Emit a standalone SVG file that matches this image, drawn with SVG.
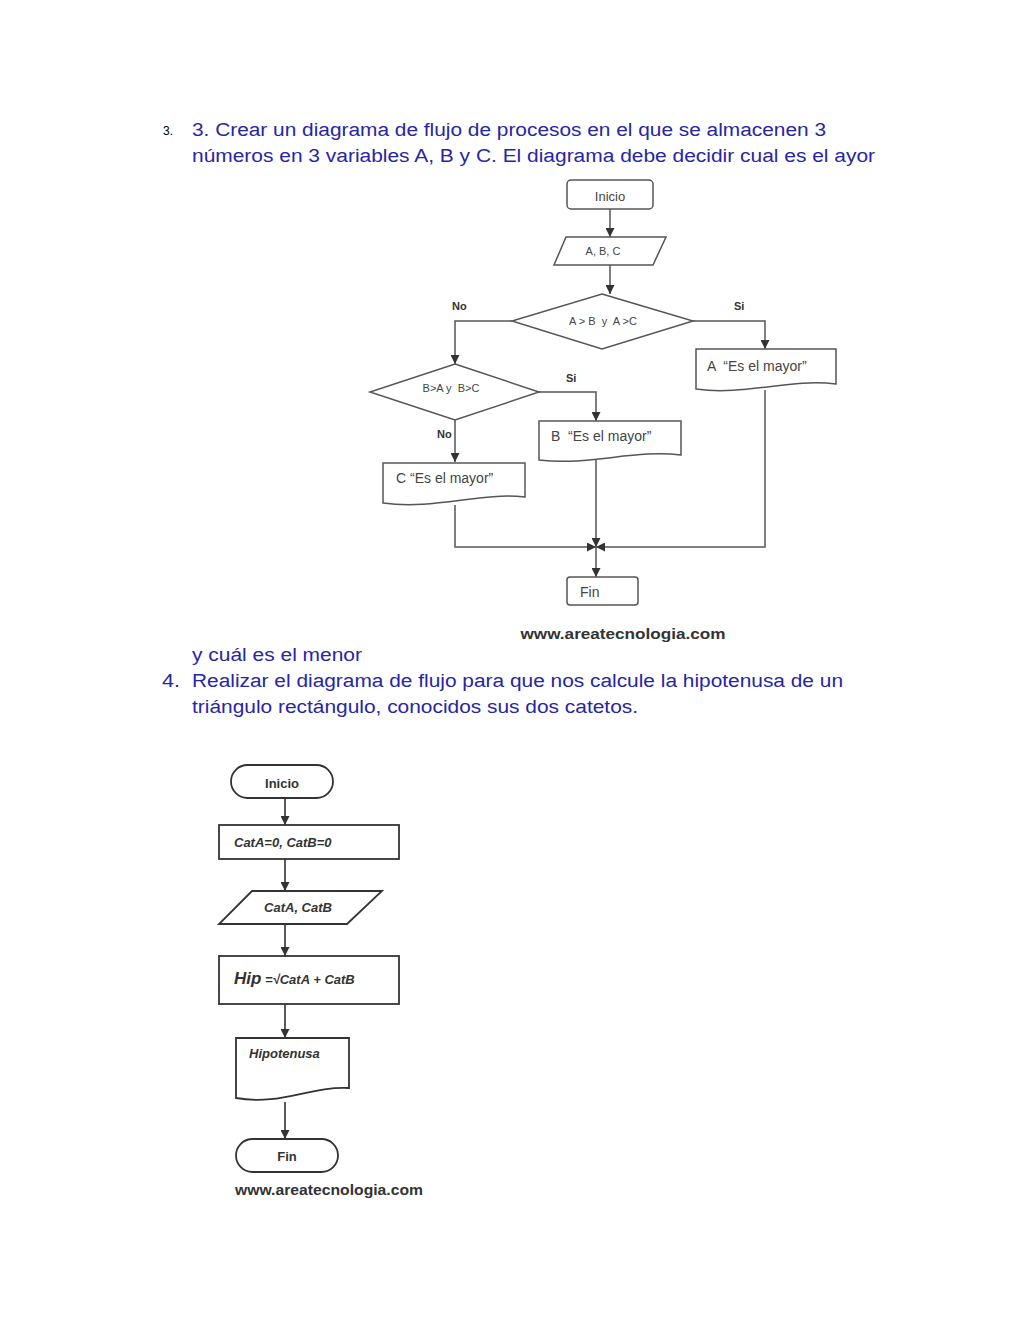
<svg xmlns="http://www.w3.org/2000/svg" width="1024" height="1326" viewBox="0 0 1024 1326">
<style>
.body{font-family:"Liberation Sans",Arial,sans-serif;font-size:18px;fill:#2626a6}
.num{font-family:"Liberation Sans",Arial,sans-serif;font-size:12px;fill:#000}
.f1{fill:#fff;stroke:#555;stroke-width:1.5}
.c1{fill:none;stroke:#555;stroke-width:1.5}
.t1{font-family:"Liberation Sans",Arial,sans-serif;fill:#444;white-space:pre}
.lb{font-family:"Liberation Sans",Arial,sans-serif;font-weight:bold;font-size:11px;fill:#333}
.f2{fill:#fff;stroke:#333;stroke-width:1.8}
.c2{fill:none;stroke:#333;stroke-width:1.6}
.t2{font-family:"Liberation Sans",Arial,sans-serif;font-weight:bold;font-style:italic;font-size:13px;fill:#333}
.t2n{font-family:"Liberation Sans",Arial,sans-serif;font-weight:bold;font-size:13px;fill:#333}
.web{font-family:"Liberation Sans",Arial,sans-serif;font-weight:bold;font-size:15px;fill:#333}
</style>
<defs>
<marker id="ah" viewBox="0 0 10 10" refX="10" refY="5" markerWidth="9" markerHeight="9" markerUnits="userSpaceOnUse" orient="auto">
<path d="M0,0 L10,5 L0,10 Z" fill="#333"/>
</marker>
</defs>
<rect width="1024" height="1326" fill="#fff"/>

<g id="text-top">
<text class="num" x="163" y="135">3.</text>
<text class="body" x="192" y="136" textLength="634" lengthAdjust="spacingAndGlyphs">3. Crear un diagrama de flujo de procesos en el que se almacenen 3</text>
<text class="body" x="192" y="162" textLength="683" lengthAdjust="spacingAndGlyphs">números en 3 variables A, B y C. El diagrama debe decidir cual es el ayor</text>
<text class="body" x="192" y="661" textLength="170" lengthAdjust="spacingAndGlyphs">y cuál es el menor</text>
<text class="body" x="162" y="687" textLength="18" lengthAdjust="spacingAndGlyphs">4.</text>
<text class="body" x="192" y="687" textLength="651" lengthAdjust="spacingAndGlyphs">Realizar el diagrama de flujo para que nos calcule la hipotenusa de un</text>
<text class="body" x="192" y="713" textLength="446" lengthAdjust="spacingAndGlyphs">triángulo rectángulo, conocidos sus dos catetos.</text>
</g>

<g id="connectors1">
<path class="c1" d="M610,209 V237" marker-end="url(#ah)"/>
<path class="c1" d="M610,265 V294" marker-end="url(#ah)"/>
<path class="c1" d="M512,321 H455 V364" marker-end="url(#ah)"/>
<path class="c1" d="M693,321 H765 V349" marker-end="url(#ah)"/>
<path class="c1" d="M539,392 H596 V421" marker-end="url(#ah)"/>
<path class="c1" d="M455,420 V462" marker-end="url(#ah)"/>
<path class="c1" d="M455,505 V547 H596" marker-end="url(#ah)"/>
<path class="c1" d="M765,390 V547 H596" marker-end="url(#ah)"/>
<path class="c1" d="M596,460 V547" marker-end="url(#ah)"/>
<path class="c1" d="M596,547 V577" marker-end="url(#ah)"/>
<text class="lb" x="452" y="310">No</text>
<text class="lb" x="734" y="310">Si</text>
<text class="lb" x="566" y="382">Si</text>
<text class="lb" x="437" y="438">No</text>
</g>

<g id="inicio1">
<rect class="f1" x="567" y="180" width="86" height="29" rx="4"/>
<text class="t1" x="610" y="201" font-size="13" text-anchor="middle">Inicio</text>
</g>
<g id="abc">
<path class="f1" d="M566,237 H666 L653,265 H554 Z"/>
<text class="t1" x="603" y="255" font-size="11" text-anchor="middle">A, B, C</text>
</g>
<g id="dec1">
<path class="f1" d="M602,294 L693,321 L602,349 L512,321 Z"/>
<text class="t1" x="603" y="325" font-size="11" text-anchor="middle">A &gt; B  y  A &gt;C</text>
</g>
<g id="amayor">
<path class="f1" d="M696,349 H836 V384 C790,378 745,396 696,389 Z"/>
<text class="t1" x="707" y="371" font-size="14">A  “Es el mayor”</text>
</g>
<g id="dec2">
<path class="f1" d="M455,364 L539,392 L455,420 L370,392 Z"/>
<text class="t1" x="451" y="392" font-size="11" text-anchor="middle">B&gt;A y  B&gt;C</text>
</g>
<g id="bmayor">
<path class="f1" d="M539,421 H681 V455 C635,449 590,466 539,460 Z"/>
<text class="t1" x="551" y="441" font-size="14">B  “Es el mayor”</text>
</g>
<g id="cmayor">
<path class="f1" d="M383,463 H525 V497 C480,492 435,510 383,503 Z"/>
<text class="t1" x="396" y="483" font-size="14">C “Es el mayor”</text>
</g>
<g id="fin1">
<rect class="f1" x="567" y="577" width="71" height="28" rx="3"/>
<text class="t1" x="580" y="597" font-size="14">Fin</text>
</g>
<text class="web" x="623" y="639" text-anchor="middle" textLength="205" lengthAdjust="spacingAndGlyphs">www.areatecnologia.com</text>

<g id="connectors2">
<path class="c2" d="M285,798 V825" marker-end="url(#ah)"/>
<path class="c2" d="M285,859 V891" marker-end="url(#ah)"/>
<path class="c2" d="M285,924 V956" marker-end="url(#ah)"/>
<path class="c2" d="M285,1004 V1038" marker-end="url(#ah)"/>
<path class="c2" d="M285,1102 V1139" marker-end="url(#ah)"/>
</g>
<g id="inicio2">
<rect class="f2" x="231" y="765" width="102" height="33" rx="16.5"/>
<text class="t2n" x="282" y="788" text-anchor="middle">Inicio</text>
</g>
<g id="init">
<rect class="f2" x="219" y="825" width="180" height="34"/>
<text class="t2" x="234" y="847">CatA=0, CatB=0</text>
</g>
<g id="read">
<path class="f2" d="M252,891 H382 L347,924 H219 Z"/>
<text class="t2" x="298" y="912" text-anchor="middle">CatA, CatB</text>
</g>
<g id="calc">
<rect class="f2" x="219" y="956" width="180" height="48"/>
<text class="t2" x="234" y="984"><tspan font-size="17">Hip</tspan> =√CatA + CatB</text>
</g>
<g id="hipotenusa">
<path class="f2" d="M236,1038 H349 V1088 C310,1086 280,1106 236,1098 Z"/>
<text class="t2" x="249" y="1058">Hipotenusa</text>
</g>
<g id="fin2">
<rect class="f2" x="236" y="1139" width="102" height="33" rx="16.5"/>
<text class="t2n" x="287" y="1161" text-anchor="middle">Fin</text>
</g>
<text class="web" x="235" y="1195" textLength="188" lengthAdjust="spacingAndGlyphs">www.areatecnologia.com</text>
</svg>
